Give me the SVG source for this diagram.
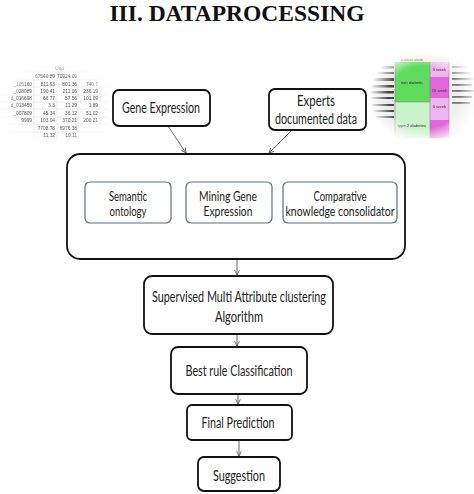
<svg xmlns="http://www.w3.org/2000/svg" width="474" height="494" viewBox="0 0 474 494">
<style>
.box{fill:#fff;stroke:#111;stroke-width:1.8}
.inner{fill:#fff;stroke:#5b6f88;stroke-width:1.2}
.t{font-family:Lato,"Open Sans",sans-serif;font-size:14.5px;fill:#222;text-anchor:middle}
.ti{font-family:Lato,"Open Sans",sans-serif;font-size:12.5px;fill:#222;text-anchor:middle}
.num{font-family:"Liberation Sans",sans-serif;font-size:4.8px;fill:#555;text-anchor:end}
.sm{font-family:"Liberation Sans",sans-serif;font-size:4.2px;fill:#333;text-anchor:middle}
.conn{stroke:#555;stroke-width:0.9;fill:none;marker-end:url(#ah)}
</style>
<defs>
<marker id="ah" viewBox="0 0 10 10" refX="9" refY="5" markerWidth="6" markerHeight="6" orient="auto" markerUnits="userSpaceOnUse">
<path d="M1,1 L9,5 L1,9" fill="none" stroke="#555" stroke-width="1.4"/>
</marker>
<radialGradient id="fade" cx="0.5" cy="0.5" r="0.5">
<stop offset="0.65" stop-color="#fff"/>
<stop offset="1" stop-color="#000"/>
</radialGradient>
<mask id="mL" maskUnits="userSpaceOnUse" x="0" y="55" width="130" height="100">
<ellipse cx="57" cy="106" rx="62" ry="46" fill="url(#fade)"/>
</mask>
<mask id="mR" maskUnits="userSpaceOnUse" x="360" y="48" width="114" height="104">
<ellipse cx="424" cy="97" rx="55" ry="48" fill="url(#fade)"/>
</mask>
<filter id="blur"><feGaussianBlur stdDeviation="0.6"/></filter>
</defs>
<rect width="474" height="494" fill="#fff"/>
<text x="237" y="21" font-family="'Liberation Serif',serif" font-weight="bold" font-size="23.5" text-anchor="middle" fill="#111">III. DATAPROCESSING</text>

<g id="img-left" mask="url(#mL)">
<g stroke="#ddd" stroke-width="0.5">
<line x1="0" y1="72" x2="110" y2="72"/>
<line x1="0" y1="80" x2="110" y2="80"/>
<line x1="0" y1="87" x2="110" y2="87"/>
<line x1="0" y1="95" x2="110" y2="95"/>
<line x1="0" y1="102" x2="110" y2="102"/>
<line x1="0" y1="109" x2="110" y2="109"/>
<line x1="0" y1="117" x2="110" y2="117"/>
<line x1="0" y1="124" x2="110" y2="124"/>
<line x1="0" y1="132" x2="110" y2="132"/>
<line x1="34" y1="65" x2="34" y2="140"/>
<line x1="57" y1="65" x2="57" y2="140"/>
<line x1="78" y1="65" x2="78" y2="140"/>
<line x1="100" y1="65" x2="100" y2="140"/>
</g>
<text class="num" x="64" y="70" fill="#999">Uqd</text>
<text class="num" x="32" y="86">_105160</text>
<text class="num" x="32" y="93">_028089</text>
<text class="num" x="32" y="100">d_016698</text>
<text class="num" x="32" y="107">d_013459</text>
<text class="num" x="32" y="115">_007809</text>
<text class="num" x="32" y="122">9999</text>
<text class="num" x="55" y="78">67540.89</text>
<text class="num" x="55" y="86">811.93</text>
<text class="num" x="55" y="93">190.41</text>
<text class="num" x="55" y="100">66.77</text>
<text class="num" x="55" y="107">3.3</text>
<text class="num" x="55" y="115">45.34</text>
<text class="num" x="55" y="122">103.04</text>
<text class="num" x="55" y="130">7708.78</text>
<text class="num" x="55" y="137">11.32</text>
<text class="num" x="77" y="78">70924.09</text>
<text class="num" x="77" y="86">801.36</text>
<text class="num" x="77" y="93">211.06</text>
<text class="num" x="77" y="100">57.56</text>
<text class="num" x="77" y="107">11.29</text>
<text class="num" x="77" y="115">36.12</text>
<text class="num" x="77" y="122">370.21</text>
<text class="num" x="77" y="130">6976.38</text>
<text class="num" x="77" y="137">10.11</text>
<text class="num" x="98" y="86">740.7</text>
<text class="num" x="98" y="93">236.19</text>
<text class="num" x="98" y="100">101.09</text>
<text class="num" x="98" y="107">1.89</text>
<text class="num" x="98" y="115">51.02</text>
<text class="num" x="98" y="122">200.21</text>
</g>

<g id="img-right" mask="url(#mR)">
<g filter="url(#blur)">
<rect x="368" y="62" width="27" height="75" fill="#e8e8e8"/>
<g fill="#444">
<rect x="368" y="66" width="26" height="2.5"/>
<rect x="370" y="72" width="24" height="2"/>
<rect x="366" y="78" width="28" height="3"/>
<rect x="368" y="85" width="26" height="2.5"/>
<rect x="370" y="91" width="24" height="2.5"/>
<rect x="368" y="97" width="26" height="2"/>
<rect x="372" y="104" width="22" height="2"/>
<rect x="374" y="110" width="20" height="2"/>
<rect x="376" y="116" width="18" height="2"/>
</g>
<rect x="449" y="62" width="30" height="75" fill="#f0f0f0"/>
<g fill="#777">
<rect x="452" y="66" width="18" height="1.8"/>
<rect x="452" y="72" width="20" height="1.8"/>
<rect x="452" y="78" width="22" height="1.8"/>
<rect x="452" y="84" width="20" height="1.8"/>
<rect x="452" y="90" width="22" height="1.8"/>
<rect x="452" y="96" width="20" height="1.8"/>
<rect x="452" y="102" width="18" height="1.8"/>
</g>
</g>
<rect x="395" y="55" width="54" height="7" fill="#f3f0dc"/>
<text class="sm" x="412" y="60.5" fill="#666">ication state</text>
<rect x="395" y="62" width="35" height="40" fill="#5fdc5f"/>
<rect x="395" y="102" width="35" height="36" fill="#c9f3c9"/>
<rect x="430" y="62" width="19" height="15" fill="#f1b4ee"/>
<rect x="430" y="77" width="19" height="21" fill="#e266dc"/>
<rect x="430" y="98" width="19" height="22" fill="#f1b4ee"/>
<rect x="430" y="120" width="19" height="18" fill="#e266dc"/>
<g stroke="#777" stroke-width="0.5" fill="none">
<line x1="395" y1="62" x2="395" y2="138"/>
<line x1="430" y1="62" x2="430" y2="138"/>
<line x1="449" y1="62" x2="449" y2="138"/>
<line x1="395" y1="102" x2="430" y2="102"/>
</g>
<text class="sm" x="412" y="84">non diabetic</text>
<text class="sm" x="412" y="127">type 2 diabetes</text>
<text class="sm" x="439.5" y="71">0 week</text>
<text class="sm" x="439.5" y="92">15 week</text>
<text class="sm" x="439.5" y="108">0 week</text>
</g>

<g id="connectors">
<line class="conn" x1="168" y1="126" x2="186" y2="153"/>
<line class="conn" x1="291" y1="131" x2="269" y2="153"/>
<line class="conn" x1="237" y1="259" x2="237" y2="275"/>
<line class="conn" x1="237" y1="334" x2="237" y2="346"/>
<line class="conn" x1="238" y1="394" x2="238" y2="404"/>
<line class="conn" x1="239" y1="440" x2="239" y2="456"/>
</g>

<g id="gene-expression">
<rect class="box" x="113" y="90" width="97" height="36" rx="6"/>
<text class="t" x="161" y="113" textLength="78" lengthAdjust="spacingAndGlyphs">Gene Expression</text>
</g>
<g id="experts">
<rect class="box" x="269" y="89" width="97" height="41" rx="6"/>
<text class="t" x="316" y="106" textLength="38" lengthAdjust="spacingAndGlyphs">Experts</text>
<text class="t" x="316" y="124" textLength="82" lengthAdjust="spacingAndGlyphs">documented data</text>
</g>
<g id="processing">
<rect class="box" x="67" y="154" width="338" height="105" rx="13"/>
</g>
<g id="semantic">
<rect class="inner" x="85" y="182" width="86" height="41" rx="5"/>
<text class="ti" x="128" y="201" textLength="38" lengthAdjust="spacingAndGlyphs">Semantic</text>
<text class="ti" x="128" y="216" textLength="37" lengthAdjust="spacingAndGlyphs">ontology</text>
</g>
<g id="mining">
<rect class="inner" x="186" y="182" width="86" height="41" rx="5"/>
<text class="ti" x="228" y="201" textLength="58" lengthAdjust="spacingAndGlyphs">Mining Gene</text>
<text class="ti" x="228" y="216" textLength="49" lengthAdjust="spacingAndGlyphs">Expression</text>
</g>
<g id="comparative">
<rect class="inner" x="283" y="182" width="114" height="41" rx="5"/>
<text class="ti" x="340" y="201" textLength="53" lengthAdjust="spacingAndGlyphs">Comparative</text>
<text class="ti" x="340" y="216" textLength="109" lengthAdjust="spacingAndGlyphs">knowledge consolidator</text>
</g>
<g id="supervised">
<rect class="box" x="144" y="276" width="189" height="58" rx="8"/>
<text class="t" x="239" y="302" textLength="174" lengthAdjust="spacingAndGlyphs">Supervised Multi Attribute clustering</text>
<text class="t" x="239" y="322" textLength="48" lengthAdjust="spacingAndGlyphs">Algorithm</text>
</g>
<g id="best-rule">
<rect class="box" x="171" y="347" width="136" height="47" rx="7"/>
<text class="t" x="239" y="376" textLength="107" lengthAdjust="spacingAndGlyphs">Best rule Classification</text>
</g>
<g id="final">
<rect class="box" x="187" y="405" width="105" height="35" rx="5"/>
<text class="t" x="238" y="428" textLength="73" lengthAdjust="spacingAndGlyphs">Final Prediction</text>
</g>
<g id="suggestion">
<rect class="box" x="198" y="457" width="82" height="34" rx="6"/>
<text class="t" x="239" y="481" textLength="52" lengthAdjust="spacingAndGlyphs">Suggestion</text>
</g>
</svg>
